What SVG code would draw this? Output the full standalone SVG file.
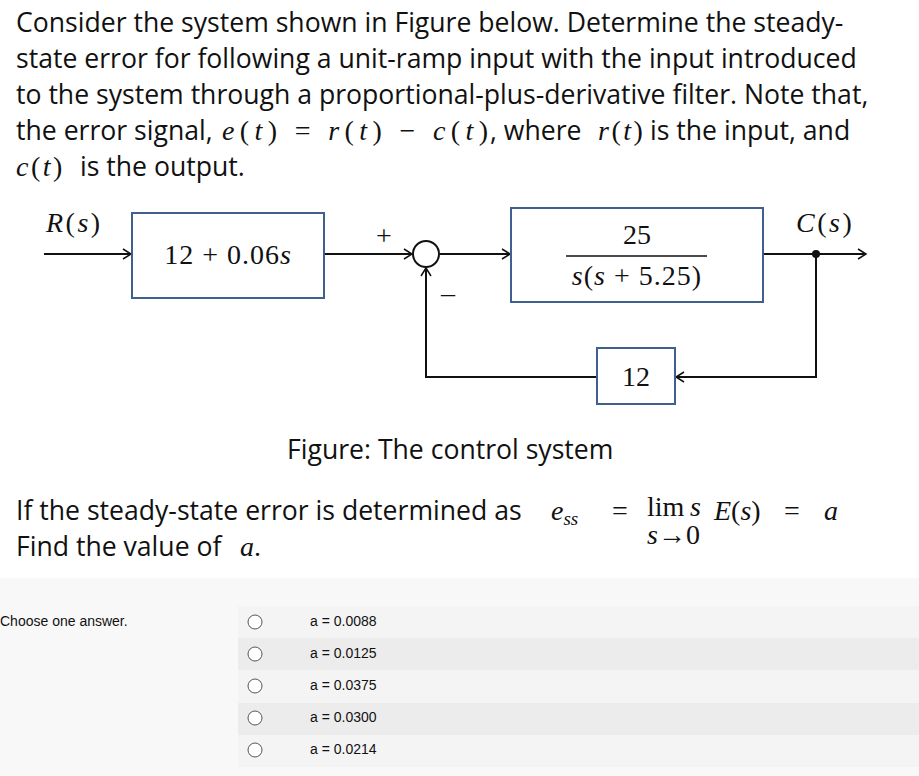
<svg xmlns="http://www.w3.org/2000/svg" width="919" height="776" viewBox="0 0 919 776">
<style>
.t{font-family:"Open Sans","Liberation Sans",sans-serif;font-size:26.6px;fill:#111}
.m{font-family:"Liberation Serif","DejaVu Serif",serif;font-size:28px;fill:#111}
.mi{font-family:"Liberation Serif","DejaVu Serif",serif;font-size:28px;font-style:italic;fill:#111}
.w{letter-spacing:2.5px}
.box{fill:#fff;stroke:#3f5f8f;stroke-width:2}
.ln{stroke:#111;stroke-width:2;fill:none}
.o{font-family:"Liberation Sans",Arial,sans-serif;font-size:14px;fill:#111}
.rb{fill:#fff;stroke:#555;stroke-width:1}
</style>
<defs><marker id="a" markerWidth="12" markerHeight="12" refX="10" refY="6" orient="auto" markerUnits="userSpaceOnUse"><path d="M2,1 L10,6 L2,11" fill="none" stroke="#111" stroke-width="1.5"/></marker></defs>
<rect width="919" height="776" fill="#fff"/>
<g id="question">
<text class="t" x="16" y="32">Consider the system shown in Figure below. Determine the steady-</text>
<text class="t" x="16" y="68">state error for following a unit-ramp input with the input introduced</text>
<text class="t" x="16" y="104">to the system through a proportional-plus-derivative filter. Note that,</text>
<text class="t" x="16" y="140">the error signal,</text>
<text class="mi" x="222" y="140" textLength="266" lengthAdjust="spacing">e<tspan font-style="normal">(</tspan>t<tspan font-style="normal">) = </tspan>r<tspan font-style="normal">(</tspan>t<tspan font-style="normal">) − </tspan>c<tspan font-style="normal">(</tspan>t<tspan font-style="normal">)</tspan></text>
<text class="t" x="490" y="140">, where</text>
<text class="mi w" x="598" y="140">r<tspan font-style="normal">(</tspan>t<tspan font-style="normal">)</tspan></text>
<text class="t" x="650" y="140">is the input, and</text>
<text class="mi w" x="16" y="176">c<tspan font-style="normal">(</tspan>t<tspan font-style="normal">)</tspan></text>
<text class="t" x="80" y="176">is the output.</text>
</g>
<g id="connectors">
<line class="ln" x1="44" y1="254" x2="131" y2="254" marker-end="url(#a)"/>
<line class="ln" x1="324" y1="254" x2="412" y2="254" marker-end="url(#a)"/>
<line class="ln" x1="440" y1="254" x2="510" y2="254" marker-end="url(#a)"/>
<line class="ln" x1="763" y1="254" x2="866" y2="254" marker-end="url(#a)"/>
<polyline class="ln" points="816,254 816,377 676,377" marker-end="url(#a)"/>
<polyline class="ln" points="597,377 426,377 426,268" marker-end="url(#a)"/>
<circle cx="816" cy="254" r="4" fill="#111"/>
</g>
<g id="sum"><circle cx="426" cy="254" r="13" fill="#fff" stroke="#111" stroke-width="2"/>
<text class="m" x="376" y="245" font-size="22">+</text>
<text class="m" x="441" y="302" font-size="22">–</text></g>
<g id="labels"><text class="mi w" x="46" y="232">R<tspan font-style="normal">(</tspan>s<tspan font-style="normal">)</tspan></text>
<text class="mi w" x="796" y="232">C<tspan font-style="normal">(</tspan>s<tspan font-style="normal">)</tspan></text></g>
<g id="filter"><rect class="box" x="132" y="213" width="192" height="85"/>
<text class="m" x="228" y="264" text-anchor="middle" letter-spacing="1">12 + 0.06<tspan font-style="italic">s</tspan></text></g>
<g id="plant"><rect class="box" x="511" y="208" width="252" height="94"/>
<text class="m" x="637" y="244" text-anchor="middle">25</text>
<line x1="566" y1="256" x2="707" y2="256" stroke="#111" stroke-width="1.5"/>
<text class="m" x="637" y="285" text-anchor="middle" letter-spacing="1"><tspan font-style="italic">s</tspan>(<tspan font-style="italic">s</tspan> + 5.25)</text></g>
<g id="feedback"><rect class="box" x="597" y="348" width="78" height="56"/>
<text class="m" x="636" y="386" text-anchor="middle">12</text></g>
<text class="t" x="287" y="459">Figure: The control system</text>
<text class="t" x="16" y="520">If the steady-state error is determined as</text>
<g id="formula">
<text class="mi" x="551" y="520">e<tspan font-size="19" dy="5">ss</tspan></text>
<text class="m" x="612" y="520">=</text>
<text class="m" x="647" y="516">lim</text>
<text class="mi" x="690" y="516">s</text>
<text class="mi" x="714" y="520">E<tspan font-style="normal">(</tspan>s<tspan font-style="normal">)</tspan></text>
<text class="m" x="784" y="520">=</text>
<text class="mi" x="824" y="520">a</text>
<text class="m" x="647" y="544" font-size="16"><tspan font-style="italic">s</tspan>→0</text>
</g>
<text class="t" x="16" y="556">Find the value of</text>
<text class="mi" x="240" y="556">a<tspan font-style="normal">.</tspan></text>
<rect x="0" y="578" width="919" height="198" fill="#f8f8f8"/>
<text class="o" x="0" y="626">Choose one answer.</text>
<g id="options">
<rect x="238" y="606" width="681" height="32" fill="#f4f4f4"/>
<rect x="238" y="638" width="681" height="32" fill="#ececec"/>
<rect x="238" y="670" width="681" height="33" fill="#f4f4f4"/>
<rect x="238" y="703" width="681" height="32" fill="#ececec"/>
<rect x="238" y="735" width="681" height="32" fill="#f4f4f4"/>
<circle class="rb" cx="255" cy="622" r="7"/><text class="o" x="310" y="626">a = 0.0088</text>
<circle class="rb" cx="255" cy="654" r="7"/><text class="o" x="310" y="658">a = 0.0125</text>
<circle class="rb" cx="255" cy="686" r="7"/><text class="o" x="310" y="690">a = 0.0375</text>
<circle class="rb" cx="255" cy="718" r="7"/><text class="o" x="310" y="722">a = 0.0300</text>
<circle class="rb" cx="255" cy="750" r="7"/><text class="o" x="310" y="754">a = 0.0214</text>
</g>
</svg>
